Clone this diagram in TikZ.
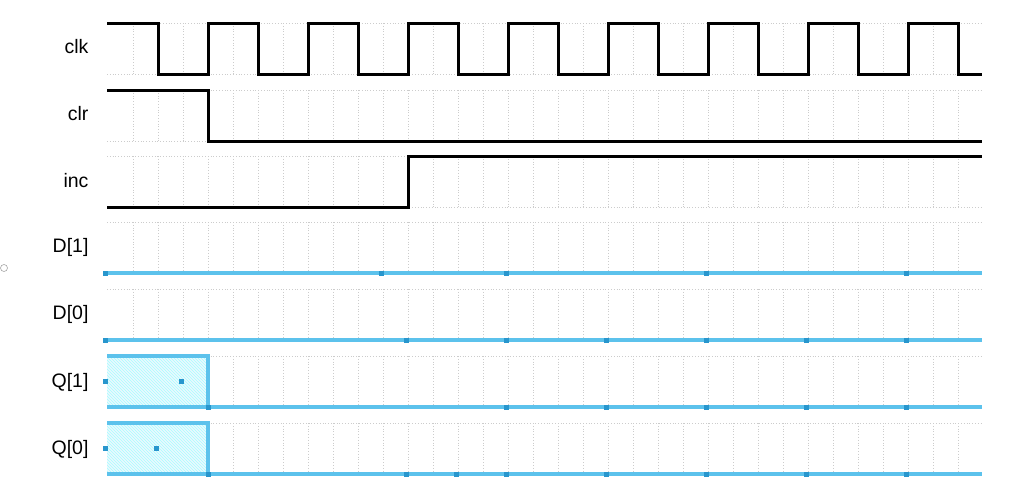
\documentclass[tikz,border=0pt]{standalone}
\usepackage{fontspec}
\setmainfont{Liberation Sans}
\usetikzlibrary{patterns}
\definecolor{wblue}{RGB}{92,194,236}
\definecolor{mblue}{RGB}{40,150,205}
\begin{document}
\begin{tikzpicture}[x=1pt,y=-1pt,
  grid/.style={gray!40,dotted,line width=0.8pt},
  sig/.style={black,line width=3pt},
  bus/.style={wblue,line width=3.4pt},
  mk/.style={fill=mblue,draw=none,minimum size=5pt,inner sep=0pt,rectangle},
  lbl/.style={anchor=east,font=\fontsize{19.5}{22}\selectfont}]
\useasboundingbox (0,0) rectangle (1028,496);
\foreach \t in {23,90,156,222,289,356,423}{
  \draw[grid] (107,\t) -- (982,\t);
  \draw[grid] (107,\t+51) -- (982,\t+51);
  \foreach \x in {133,158,...,958}{\draw[grid] (\x,\t) -- (\x,\t+51);}
}
\node[lbl] (lclk) at (92,47) {clk};
\node[lbl] (lclr) at (92,114) {clr};
\node[lbl] (linc) at (92,181) {inc};
\node[lbl] (ld1) at (92,247) {D[1]};
\node[lbl] (ld0) at (92,314) {D[0]};
\node[lbl] (lq1) at (92,382) {Q[1]};
\node[lbl] (lq0) at (92,449) {Q[0]};
\node[circle,draw=gray!70,line width=0.6pt,inner sep=0pt,minimum size=7pt] (dot) at (4,268) {};
% clk
\draw[sig] (107,23) -- (158,23) -- (158,74)
  \foreach \a in {158,258,...,858}{ -- (\a,74) -- (\a+50,74) -- (\a+50,23) -- (\a+100,23) -- (\a+100,74)} -- (982,74);
\draw[sig] (107,90) -- (208,90) -- (208,141) -- (982,141);
\draw[sig] (107,207) -- (408,207) -- (408,156) -- (982,156);
\draw[bus] (105,273) -- (982,273);
\draw[bus] (105,340) -- (982,340);
\foreach \t in {356,423}{
  \fill[cyan!8] (107,\t) rectangle (208,\t+51);
  \fill[pattern=north west lines,pattern color=cyan!35] (107,\t) rectangle (208,\t+51);
  \draw[bus] (107,\t) -- (208,\t) -- (208,\t+51) -- (982,\t+51);
  \draw[bus] (107,\t+51) -- (208,\t+51);
}
\foreach \x in {105,381,506,706,906}{\node[mk] at (\x,273) {};}
\foreach \x in {105,406,506,606,706,806,906}{\node[mk] at (\x,340) {};}
\foreach \x in {208,506,606,706,806,906}{\node[mk] at (\x,407) {};}
\node[mk] at (105,381) {}; \node[mk] at (181,381) {};
\foreach \x in {208,406,456,506,606,706,806,906}{\node[mk] at (\x,474) {};}
\node[mk] at (105,448) {}; \node[mk] at (156,448) {};
\end{tikzpicture}
\end{document}
